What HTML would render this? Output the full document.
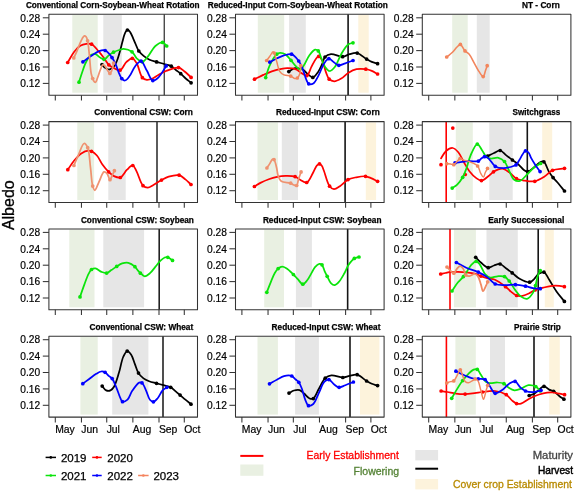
<!DOCTYPE html><html><head><meta charset="utf-8"><style>html,body{margin:0;padding:0;background:#fff;width:575px;height:493px;overflow:hidden}svg{display:block;will-change:transform;filter:blur(0.35px)}text{font-family:"Liberation Sans",sans-serif}</style></head><body>
<svg width="575" height="493" viewBox="0 0 575 493">
<rect width="575" height="493" fill="#fff"/>
<rect x="72.30" y="15.00" width="25.40" height="77.70" fill="#e9f0e2"/>
<rect x="103.30" y="15.00" width="18.50" height="77.70" fill="#e6e6e6"/>
<line x1="164.25" y1="14.30" x2="164.25" y2="95.20" stroke="#333" stroke-width="1.25"/>
<path d="M102.00,64.60 C102.90,65.60 103.59,66.80 104.70,67.60 C105.89,68.46 107.69,69.48 109.00,69.50 C110.09,69.52 111.10,68.89 112.00,68.30 C112.94,67.68 113.75,66.84 114.50,65.80 C115.43,64.52 116.12,62.92 116.90,61.00 C117.98,58.34 119.06,54.47 120.00,51.20 C120.93,47.97 121.72,44.41 122.50,41.50 C123.14,39.11 123.63,36.86 124.30,35.00 C124.82,33.54 125.35,32.07 126.00,31.20 C126.43,30.62 126.88,30.08 127.40,30.00 C127.94,29.92 128.65,30.32 129.20,30.80 C129.96,31.46 130.47,32.63 131.20,34.00 C132.38,36.23 133.89,40.18 135.20,43.10 C136.42,45.83 137.25,48.77 138.80,51.00 C140.21,53.03 142.07,54.63 143.90,56.10 C145.67,57.52 147.54,58.74 149.60,59.70 C151.75,60.70 154.22,61.19 156.60,61.90 C159.05,62.63 161.63,63.28 164.10,64.00 C166.53,64.71 169.30,65.11 171.30,66.20 C173.03,67.14 174.09,68.59 175.60,69.80 C177.21,71.09 179.05,72.28 180.70,73.70 C182.42,75.17 183.96,76.98 185.70,78.50 C187.43,80.01 189.30,81.37 191.10,82.80" transform="translate(0.00,0.00)" fill="none" stroke="#000" stroke-width="1.75" stroke-linejoin="round" stroke-linecap="round"/>
<circle cx="102.00" cy="64.60" r="1.85" fill="#000"/>
<circle cx="127.40" cy="30.00" r="1.85" fill="#000"/>
<circle cx="138.80" cy="51.00" r="1.85" fill="#000"/>
<circle cx="156.60" cy="61.90" r="1.85" fill="#000"/>
<circle cx="171.30" cy="66.20" r="1.85" fill="#000"/>
<circle cx="180.70" cy="73.70" r="1.85" fill="#000"/>
<circle cx="191.10" cy="82.80" r="1.85" fill="#000"/>
<path d="M67.70,62.50 C69.87,58.93 71.88,54.76 74.20,51.80 C76.13,49.35 78.10,47.02 80.30,45.70 C82.18,44.58 84.34,44.13 86.30,43.90 C88.10,43.69 89.87,43.42 91.60,44.20 C93.96,45.27 96.45,48.90 98.50,51.20 C100.33,53.26 101.76,55.14 103.40,57.30 C105.19,59.65 106.93,63.01 108.80,64.80 C110.19,66.13 111.45,66.76 113.10,67.60 C115.08,68.60 117.92,70.78 120.00,70.20 C122.48,69.50 124.20,63.96 126.50,61.90 C128.35,60.24 130.59,58.05 132.30,58.30 C133.99,58.55 135.32,61.05 136.70,63.30 C138.80,66.74 140.05,75.14 142.40,77.70 C143.72,79.14 145.20,79.72 146.80,79.90 C148.54,80.10 150.65,79.28 152.50,78.50 C154.49,77.66 156.24,76.07 158.30,74.90 C160.55,73.63 162.68,72.30 165.50,71.20 C169.14,69.78 175.11,67.11 178.50,67.60 C180.91,67.95 182.36,69.73 184.30,71.20 C186.55,72.90 188.83,75.33 191.10,77.40" transform="translate(0.00,0.00)" fill="none" stroke="#f00" stroke-width="1.75" stroke-linejoin="round" stroke-linecap="round"/>
<circle cx="67.70" cy="62.50" r="1.85" fill="#f00"/>
<circle cx="91.60" cy="44.20" r="1.85" fill="#f00"/>
<circle cx="108.80" cy="64.80" r="1.85" fill="#f00"/>
<circle cx="120.00" cy="70.20" r="1.85" fill="#f00"/>
<circle cx="132.30" cy="58.30" r="1.85" fill="#f00"/>
<circle cx="142.40" cy="77.70" r="1.85" fill="#f00"/>
<circle cx="178.50" cy="67.60" r="1.85" fill="#f00"/>
<circle cx="191.10" cy="77.40" r="1.85" fill="#f00"/>
<path d="M79.00,82.20 C80.03,78.97 80.94,75.82 82.10,72.50 C83.35,68.93 84.60,64.62 86.30,61.50 C87.72,58.88 89.36,55.90 91.20,54.80 C92.53,54.01 94.14,53.86 95.50,54.20 C96.99,54.58 98.46,56.48 99.70,57.30 C100.62,57.92 101.41,58.46 102.20,58.80 C102.83,59.07 103.40,59.37 104.00,59.30 C104.66,59.22 105.36,58.70 106.00,58.20 C106.77,57.60 107.25,56.62 108.20,55.80 C109.54,54.65 111.64,53.17 113.50,52.20 C115.31,51.25 117.39,50.57 119.20,50.00 C120.77,49.51 121.99,48.82 123.70,48.90 C126.06,49.01 129.81,50.17 132.00,51.80 C134.09,53.36 134.87,56.58 136.70,58.30 C138.38,59.88 140.57,62.10 142.40,61.90 C144.42,61.67 146.26,58.39 148.20,56.10 C150.59,53.28 152.68,48.33 155.40,46.00 C157.59,44.13 160.61,42.14 162.60,42.40 C164.24,42.61 165.33,44.80 166.70,46.00" transform="translate(0.00,0.00)" fill="none" stroke="#0be40b" stroke-width="1.75" stroke-linejoin="round" stroke-linecap="round"/>
<circle cx="79.00" cy="82.20" r="1.85" fill="#0be40b"/>
<circle cx="104.00" cy="59.30" r="1.85" fill="#0be40b"/>
<circle cx="113.50" cy="52.20" r="1.85" fill="#0be40b"/>
<circle cx="132.00" cy="51.80" r="1.85" fill="#0be40b"/>
<circle cx="142.40" cy="61.90" r="1.85" fill="#0be40b"/>
<circle cx="162.60" cy="42.40" r="1.85" fill="#0be40b"/>
<circle cx="166.70" cy="46.00" r="1.85" fill="#0be40b"/>
<path d="M82.90,61.80 C84.10,60.93 85.31,60.06 86.50,59.20 C87.67,58.36 88.79,57.54 90.00,56.70 C91.28,55.81 92.66,54.86 94.00,54.00 C95.32,53.16 96.68,52.21 98.00,51.60 C99.18,51.05 100.30,50.58 101.50,50.40 C102.70,50.22 104.08,50.11 105.20,50.50 C106.35,50.90 107.29,51.81 108.30,52.80 C109.57,54.04 110.84,55.84 112.00,57.60 C113.26,59.51 114.40,61.52 115.50,63.90 C116.83,66.76 117.99,71.02 119.20,73.70 C120.08,75.65 120.69,77.44 121.80,78.60 C122.71,79.55 123.90,80.63 125.00,80.50 C126.41,80.34 127.96,78.13 129.40,76.30 C131.39,73.76 133.02,68.86 135.20,66.20 C136.97,64.03 139.21,60.83 141.00,61.10 C143.14,61.42 144.86,67.30 146.80,70.50 C148.80,73.80 150.50,79.95 152.80,80.60 C154.47,81.07 156.50,79.32 158.30,77.70 C161.02,75.25 163.57,69.83 166.20,65.90" transform="translate(0.00,0.00)" fill="none" stroke="#00f" stroke-width="1.75" stroke-linejoin="round" stroke-linecap="round"/>
<circle cx="82.90" cy="61.80" r="1.85" fill="#00f"/>
<circle cx="105.20" cy="50.50" r="1.85" fill="#00f"/>
<circle cx="112.00" cy="57.60" r="1.85" fill="#00f"/>
<circle cx="121.80" cy="78.60" r="1.85" fill="#00f"/>
<circle cx="141.00" cy="61.10" r="1.85" fill="#00f"/>
<circle cx="152.80" cy="80.60" r="1.85" fill="#00f"/>
<circle cx="166.20" cy="65.90" r="1.85" fill="#00f"/>
<path d="M73.80,57.90 C74.73,55.87 75.69,53.94 76.60,51.80 C77.59,49.49 78.52,46.79 79.50,44.50 C80.39,42.42 81.25,40.16 82.20,38.60 C82.90,37.44 83.65,35.94 84.40,35.80 C84.96,35.69 85.63,36.23 86.10,36.80 C86.80,37.63 87.16,39.02 87.60,40.80 C88.41,44.11 88.83,50.26 89.40,55.40 C90.04,61.15 90.37,69.60 91.20,73.70 C91.64,75.85 92.14,77.09 92.70,78.50 C93.16,79.66 93.59,80.98 94.20,81.60 C94.61,82.02 95.18,82.45 95.60,82.30 C96.29,82.05 96.69,80.03 97.30,78.50 C98.20,76.24 99.27,72.49 100.30,70.00 C101.14,67.97 101.88,64.85 102.90,64.60 C103.62,64.42 104.57,65.58 105.30,66.40 C106.24,67.46 106.96,69.46 107.80,70.70 C108.50,71.73 109.24,73.42 109.90,73.40 C110.54,73.38 111.21,71.75 111.70,70.70 C112.28,69.47 112.67,67.75 113.00,66.40 C113.28,65.24 113.40,64.20 113.60,63.10" transform="translate(0.00,0.00)" fill="none" stroke="#ef9270" stroke-width="1.75" stroke-linejoin="round" stroke-linecap="round"/>
<circle cx="73.80" cy="57.90" r="1.85" fill="#ef9270"/>
<circle cx="87.60" cy="40.80" r="1.85" fill="#ef9270"/>
<circle cx="92.70" cy="78.50" r="1.85" fill="#ef9270"/>
<circle cx="109.90" cy="73.40" r="1.85" fill="#ef9270"/>
<circle cx="113.60" cy="63.10" r="1.85" fill="#ef9270"/>
<rect x="48.90" y="14.30" width="148.60" height="80.90" fill="none" stroke="#333" stroke-width="1.05" stroke-linejoin="round"/>
<line x1="42.80" y1="17.80" x2="48.90" y2="17.80" stroke="#333" stroke-width="1.05"/>
<text x="40.20" y="21.50" font-size="10.2" text-anchor="end" fill="#000" stroke="#000" stroke-width="0.2">0.28</text>
<line x1="42.80" y1="34.20" x2="48.90" y2="34.20" stroke="#333" stroke-width="1.05"/>
<text x="40.20" y="37.90" font-size="10.2" text-anchor="end" fill="#000" stroke="#000" stroke-width="0.2">0.24</text>
<line x1="42.80" y1="50.60" x2="48.90" y2="50.60" stroke="#333" stroke-width="1.05"/>
<text x="40.20" y="54.30" font-size="10.2" text-anchor="end" fill="#000" stroke="#000" stroke-width="0.2">0.20</text>
<line x1="42.80" y1="67.00" x2="48.90" y2="67.00" stroke="#333" stroke-width="1.05"/>
<text x="40.20" y="70.70" font-size="10.2" text-anchor="end" fill="#000" stroke="#000" stroke-width="0.2">0.16</text>
<line x1="42.80" y1="83.40" x2="48.90" y2="83.40" stroke="#333" stroke-width="1.05"/>
<text x="40.20" y="87.10" font-size="10.2" text-anchor="end" fill="#000" stroke="#000" stroke-width="0.2">0.12</text>
<line x1="55.30" y1="95.20" x2="55.30" y2="100.50" stroke="#333" stroke-width="1.05"/>
<line x1="81.44" y1="95.20" x2="81.44" y2="100.50" stroke="#333" stroke-width="1.05"/>
<line x1="106.73" y1="95.20" x2="106.73" y2="100.50" stroke="#333" stroke-width="1.05"/>
<line x1="132.87" y1="95.20" x2="132.87" y2="100.50" stroke="#333" stroke-width="1.05"/>
<line x1="159.00" y1="95.20" x2="159.00" y2="100.50" stroke="#333" stroke-width="1.05"/>
<line x1="184.29" y1="95.20" x2="184.29" y2="100.50" stroke="#333" stroke-width="1.05"/>
<text x="25.90" y="8.25" font-size="8.6" font-weight="bold" textLength="173.70" lengthAdjust="spacingAndGlyphs" fill="#000" stroke="#000" stroke-width="0.25">Conventional Corn-Soybean-Wheat Rotation</text>
<rect x="257.80" y="15.00" width="26.40" height="77.70" fill="#e9f0e2"/>
<rect x="289.10" y="15.00" width="16.70" height="77.70" fill="#e6e6e6"/>
<rect x="358.30" y="15.00" width="10.40" height="77.70" fill="#fdf3dc"/>
<line x1="348.10" y1="14.30" x2="348.10" y2="95.20" stroke="#151515" stroke-width="1.6"/>
<path d="M288.80,71.60 C290.83,70.47 293.01,68.62 294.90,68.20 C296.35,67.88 297.64,68.26 299.00,68.50 C300.40,68.75 301.86,68.92 303.20,69.70 C304.82,70.64 306.16,72.90 307.80,74.20 C309.37,75.45 311.20,77.57 312.80,77.40 C314.55,77.21 316.31,74.46 317.80,72.40 C319.59,69.93 321.13,66.08 322.40,63.30 C323.44,61.03 323.55,58.54 325.00,57.00 C326.43,55.48 328.62,54.37 331.00,54.10 C334.18,53.73 339.26,56.91 342.60,56.70 C345.22,56.53 347.10,54.80 349.50,54.20 C351.97,53.58 354.61,52.54 357.20,53.10 C360.30,53.77 363.90,57.52 366.60,59.10 C368.56,60.25 369.98,61.14 371.80,61.90 C373.64,62.67 375.67,63.10 377.60,63.70" transform="translate(0.00,0.00)" fill="none" stroke="#000" stroke-width="1.75" stroke-linejoin="round" stroke-linecap="round"/>
<circle cx="288.80" cy="71.60" r="1.85" fill="#000"/>
<circle cx="312.80" cy="77.40" r="1.85" fill="#000"/>
<circle cx="325.00" cy="57.00" r="1.85" fill="#000"/>
<circle cx="342.60" cy="56.70" r="1.85" fill="#000"/>
<circle cx="357.20" cy="53.10" r="1.85" fill="#000"/>
<circle cx="366.60" cy="59.10" r="1.85" fill="#000"/>
<circle cx="377.60" cy="63.70" r="1.85" fill="#000"/>
<path d="M254.50,79.20 C257.43,77.77 260.37,76.23 263.30,74.90 C266.14,73.61 268.83,72.30 271.80,71.30 C274.89,70.25 278.62,69.31 281.50,68.80 C283.75,68.40 285.40,68.15 287.60,68.20 C290.20,68.25 293.81,68.51 296.10,69.40 C297.90,70.10 298.86,71.44 300.50,72.40 C302.40,73.52 305.16,76.17 306.90,75.60 C308.94,74.94 309.87,69.74 311.40,66.90 C312.90,64.11 314.51,60.51 316.00,58.70 C316.92,57.59 317.78,56.31 318.70,56.40 C319.89,56.51 321.33,59.00 322.40,61.00 C323.93,63.85 324.72,69.12 326.00,72.40 C327.02,75.00 327.65,77.71 329.20,79.20 C330.52,80.46 332.39,81.27 334.20,81.30 C336.33,81.33 338.97,79.89 341.20,78.60 C343.62,77.20 345.58,74.56 348.10,73.00 C350.67,71.41 353.56,69.83 356.50,69.20 C359.46,68.56 363.06,68.82 365.80,69.20 C368.04,69.51 369.86,70.12 371.80,70.90 C373.79,71.70 375.67,72.97 377.60,74.00" transform="translate(0.00,0.00)" fill="none" stroke="#f00" stroke-width="1.75" stroke-linejoin="round" stroke-linecap="round"/>
<circle cx="254.50" cy="79.20" r="1.85" fill="#f00"/>
<circle cx="306.90" cy="75.60" r="1.85" fill="#f00"/>
<circle cx="318.70" cy="56.40" r="1.85" fill="#f00"/>
<circle cx="329.20" cy="79.20" r="1.85" fill="#f00"/>
<circle cx="365.80" cy="69.20" r="1.85" fill="#f00"/>
<circle cx="377.60" cy="74.00" r="1.85" fill="#f00"/>
<path d="M265.70,77.60 C266.90,73.87 267.61,70.11 269.30,66.40 C271.17,62.31 274.34,56.18 276.70,54.20 C277.93,53.17 279.00,52.86 280.30,52.80 C281.80,52.73 283.62,53.25 285.20,54.20 C287.23,55.43 289.16,58.24 291.00,60.30 C292.79,62.31 294.37,64.75 296.10,66.40 C297.54,67.77 299.18,69.87 300.50,69.70 C301.86,69.52 302.86,66.99 304.10,65.10 C305.85,62.44 307.54,57.72 309.60,55.00 C311.28,52.77 313.41,49.93 315.10,49.60 C316.23,49.38 317.38,49.99 318.30,50.90 C319.73,52.33 320.39,56.07 321.50,58.70 C322.65,61.41 323.55,64.76 325.10,66.90 C326.39,68.68 328.10,70.96 329.70,71.00 C331.39,71.04 333.37,68.74 335.00,66.70 C337.34,63.78 338.91,58.02 341.20,54.20 C343.31,50.67 345.69,46.30 348.10,44.50 C349.69,43.31 351.37,43.37 353.00,42.80" transform="translate(0.00,0.00)" fill="none" stroke="#0be40b" stroke-width="1.75" stroke-linejoin="round" stroke-linecap="round"/>
<circle cx="265.70" cy="77.60" r="1.85" fill="#0be40b"/>
<circle cx="276.70" cy="54.20" r="1.85" fill="#0be40b"/>
<circle cx="291.00" cy="60.30" r="1.85" fill="#0be40b"/>
<circle cx="318.30" cy="50.90" r="1.85" fill="#0be40b"/>
<circle cx="353.00" cy="42.80" r="1.85" fill="#0be40b"/>
<path d="M269.70,62.10 C272.03,60.90 274.32,59.61 276.70,58.50 C279.09,57.38 281.50,56.12 284.00,55.40 C286.47,54.69 289.27,53.47 291.60,54.20 C294.23,55.02 296.87,58.58 298.70,61.00 C300.32,63.14 301.19,65.21 302.30,67.80 C303.67,70.98 304.74,75.89 306.00,78.80 C306.88,80.84 307.38,83.09 308.70,83.80 C309.89,84.44 311.89,84.25 313.30,83.40 C315.36,82.16 316.99,78.18 318.70,75.10 C320.66,71.57 322.17,66.20 324.20,63.30 C325.64,61.25 327.14,58.83 328.80,58.70 C330.48,58.57 332.45,61.46 334.20,62.60 C335.77,63.62 337.09,65.10 338.80,65.30 C340.74,65.53 343.05,64.05 345.30,63.30 C347.77,62.47 350.43,61.43 353.00,60.50" transform="translate(0.00,0.00)" fill="none" stroke="#00f" stroke-width="1.75" stroke-linejoin="round" stroke-linecap="round"/>
<circle cx="269.70" cy="62.10" r="1.85" fill="#00f"/>
<circle cx="291.60" cy="54.20" r="1.85" fill="#00f"/>
<circle cx="298.70" cy="61.00" r="1.85" fill="#00f"/>
<circle cx="308.70" cy="83.80" r="1.85" fill="#00f"/>
<circle cx="328.80" cy="58.70" r="1.85" fill="#00f"/>
<circle cx="338.80" cy="65.30" r="1.85" fill="#00f"/>
<circle cx="353.00" cy="60.50" r="1.85" fill="#00f"/>
<path d="M266.70,60.50 C267.80,59.00 268.93,57.48 270.00,56.00 C271.03,54.58 272.19,51.87 273.00,51.80 C273.46,51.76 273.81,52.34 274.20,53.00 C275.09,54.50 275.82,58.57 276.70,61.50 C277.65,64.65 278.16,68.98 279.70,71.30 C280.84,73.02 282.28,74.10 284.00,74.90 C285.89,75.78 288.78,75.38 290.70,76.10 C292.33,76.71 293.66,78.42 294.90,78.60 C295.78,78.73 296.59,78.54 297.30,78.00 C298.31,77.24 299.22,75.43 299.80,73.70 C300.55,71.47 300.47,68.23 300.80,65.50" transform="translate(0.00,0.00)" fill="none" stroke="#f2855c" stroke-width="1.45" stroke-linejoin="round" stroke-linecap="round"/>
<circle cx="266.70" cy="60.50" r="1.85" fill="#f2855c"/>
<circle cx="274.20" cy="53.00" r="1.85" fill="#f2855c"/>
<circle cx="290.70" cy="76.10" r="1.85" fill="#f2855c"/>
<circle cx="297.30" cy="78.00" r="1.85" fill="#f2855c"/>
<circle cx="300.80" cy="65.50" r="1.85" fill="#f2855c"/>
<rect x="235.50" y="14.30" width="148.60" height="80.90" fill="none" stroke="#333" stroke-width="1.05" stroke-linejoin="round"/>
<line x1="229.40" y1="17.80" x2="235.50" y2="17.80" stroke="#333" stroke-width="1.05"/>
<text x="226.80" y="21.50" font-size="10.2" text-anchor="end" fill="#000" stroke="#000" stroke-width="0.2">0.28</text>
<line x1="229.40" y1="34.20" x2="235.50" y2="34.20" stroke="#333" stroke-width="1.05"/>
<text x="226.80" y="37.90" font-size="10.2" text-anchor="end" fill="#000" stroke="#000" stroke-width="0.2">0.24</text>
<line x1="229.40" y1="50.60" x2="235.50" y2="50.60" stroke="#333" stroke-width="1.05"/>
<text x="226.80" y="54.30" font-size="10.2" text-anchor="end" fill="#000" stroke="#000" stroke-width="0.2">0.20</text>
<line x1="229.40" y1="67.00" x2="235.50" y2="67.00" stroke="#333" stroke-width="1.05"/>
<text x="226.80" y="70.70" font-size="10.2" text-anchor="end" fill="#000" stroke="#000" stroke-width="0.2">0.16</text>
<line x1="229.40" y1="83.40" x2="235.50" y2="83.40" stroke="#333" stroke-width="1.05"/>
<text x="226.80" y="87.10" font-size="10.2" text-anchor="end" fill="#000" stroke="#000" stroke-width="0.2">0.12</text>
<line x1="241.90" y1="95.20" x2="241.90" y2="100.50" stroke="#333" stroke-width="1.05"/>
<line x1="268.04" y1="95.20" x2="268.04" y2="100.50" stroke="#333" stroke-width="1.05"/>
<line x1="293.33" y1="95.20" x2="293.33" y2="100.50" stroke="#333" stroke-width="1.05"/>
<line x1="319.47" y1="95.20" x2="319.47" y2="100.50" stroke="#333" stroke-width="1.05"/>
<line x1="345.60" y1="95.20" x2="345.60" y2="100.50" stroke="#333" stroke-width="1.05"/>
<line x1="370.89" y1="95.20" x2="370.89" y2="100.50" stroke="#333" stroke-width="1.05"/>
<text x="207.70" y="8.25" font-size="8.6" font-weight="bold" textLength="180.10" lengthAdjust="spacingAndGlyphs" fill="#000" stroke="#000" stroke-width="0.25">Reduced-Input Corn-Soybean-Wheat Rotation</text>
<rect x="452.20" y="15.00" width="15.50" height="77.70" fill="#e9f0e2"/>
<rect x="476.80" y="15.00" width="12.90" height="77.70" fill="#e6e6e6"/>
<path d="M446.70,57.00 C448.53,55.50 450.49,54.15 452.20,52.50 C453.93,50.82 455.47,48.44 457.00,47.00 C458.17,45.90 459.45,44.29 460.40,44.40 C461.24,44.50 461.80,46.02 462.50,47.00 C463.33,48.15 463.94,49.72 465.00,50.90 C466.14,52.17 467.88,52.75 469.20,54.30 C470.98,56.40 472.48,60.04 474.10,62.90 C475.71,65.74 477.23,68.98 478.90,71.40 C480.29,73.42 482.08,76.79 483.20,76.60 C484.32,76.41 484.89,72.15 485.60,70.20 C486.19,68.57 486.67,67.20 487.20,65.70" transform="translate(0.00,0.00)" fill="none" stroke="#f2855c" stroke-width="1.6" stroke-linejoin="round" stroke-linecap="round"/>
<circle cx="446.70" cy="57.00" r="1.85" fill="#f2855c"/>
<circle cx="460.40" cy="44.40" r="1.85" fill="#f2855c"/>
<circle cx="465.00" cy="50.90" r="1.85" fill="#f2855c"/>
<circle cx="483.20" cy="76.60" r="1.85" fill="#f2855c"/>
<circle cx="487.20" cy="65.70" r="1.85" fill="#f2855c"/>
<rect x="422.30" y="14.30" width="148.60" height="80.90" fill="none" stroke="#333" stroke-width="1.05" stroke-linejoin="round"/>
<line x1="416.20" y1="17.80" x2="422.30" y2="17.80" stroke="#333" stroke-width="1.05"/>
<text x="413.60" y="21.50" font-size="10.2" text-anchor="end" fill="#000" stroke="#000" stroke-width="0.2">0.28</text>
<line x1="416.20" y1="34.20" x2="422.30" y2="34.20" stroke="#333" stroke-width="1.05"/>
<text x="413.60" y="37.90" font-size="10.2" text-anchor="end" fill="#000" stroke="#000" stroke-width="0.2">0.24</text>
<line x1="416.20" y1="50.60" x2="422.30" y2="50.60" stroke="#333" stroke-width="1.05"/>
<text x="413.60" y="54.30" font-size="10.2" text-anchor="end" fill="#000" stroke="#000" stroke-width="0.2">0.20</text>
<line x1="416.20" y1="67.00" x2="422.30" y2="67.00" stroke="#333" stroke-width="1.05"/>
<text x="413.60" y="70.70" font-size="10.2" text-anchor="end" fill="#000" stroke="#000" stroke-width="0.2">0.16</text>
<line x1="416.20" y1="83.40" x2="422.30" y2="83.40" stroke="#333" stroke-width="1.05"/>
<text x="413.60" y="87.10" font-size="10.2" text-anchor="end" fill="#000" stroke="#000" stroke-width="0.2">0.12</text>
<line x1="428.70" y1="95.20" x2="428.70" y2="100.50" stroke="#333" stroke-width="1.05"/>
<line x1="454.84" y1="95.20" x2="454.84" y2="100.50" stroke="#333" stroke-width="1.05"/>
<line x1="480.13" y1="95.20" x2="480.13" y2="100.50" stroke="#333" stroke-width="1.05"/>
<line x1="506.27" y1="95.20" x2="506.27" y2="100.50" stroke="#333" stroke-width="1.05"/>
<line x1="532.40" y1="95.20" x2="532.40" y2="100.50" stroke="#333" stroke-width="1.05"/>
<line x1="557.69" y1="95.20" x2="557.69" y2="100.50" stroke="#333" stroke-width="1.05"/>
<text x="522.00" y="8.25" font-size="8.6" font-weight="bold" textLength="37.70" lengthAdjust="spacingAndGlyphs" fill="#000" stroke="#000" stroke-width="0.25">NT - Corn</text>
<rect x="77.30" y="122.30" width="16.80" height="77.70" fill="#e9f0e2"/>
<rect x="108.30" y="122.30" width="17.40" height="77.70" fill="#e6e6e6"/>
<line x1="157.00" y1="121.60" x2="157.00" y2="202.50" stroke="#333" stroke-width="1.6"/>
<path d="M67.80,169.70 C69.93,166.63 71.88,163.28 74.20,160.50 C76.40,157.87 78.75,155.07 81.30,153.40 C83.53,151.94 86.50,150.75 88.40,150.60 C89.63,150.51 90.39,150.77 91.50,151.30 C93.13,152.07 95.23,153.63 96.90,155.50 C99.01,157.86 100.56,161.98 102.60,164.80 C104.48,167.40 106.55,169.93 108.60,171.90 C110.36,173.59 112.02,175.17 114.00,176.10 C115.93,177.01 118.35,178.15 120.30,177.50 C122.77,176.68 124.72,171.80 127.00,169.70 C128.90,167.95 131.19,165.19 132.80,165.50 C134.43,165.82 135.34,169.16 136.70,171.70 C138.67,175.38 140.49,183.26 143.00,185.70 C144.46,187.12 146.15,187.74 147.80,187.70 C149.61,187.65 151.39,186.09 153.40,185.00 C155.88,183.66 158.85,181.54 161.50,180.10 C163.94,178.77 166.01,177.41 168.70,176.60 C171.78,175.67 176.17,174.52 179.10,175.20 C181.59,175.77 183.42,177.85 185.40,179.40 C187.38,180.95 189.13,182.80 191.00,184.50" transform="translate(0.00,0.00)" fill="none" stroke="#f00" stroke-width="1.75" stroke-linejoin="round" stroke-linecap="round"/>
<circle cx="67.80" cy="169.70" r="1.85" fill="#f00"/>
<circle cx="91.50" cy="151.30" r="1.85" fill="#f00"/>
<circle cx="108.60" cy="171.90" r="1.85" fill="#f00"/>
<circle cx="120.30" cy="177.50" r="1.85" fill="#f00"/>
<circle cx="132.80" cy="165.50" r="1.85" fill="#f00"/>
<circle cx="143.00" cy="185.70" r="1.85" fill="#f00"/>
<circle cx="161.50" cy="180.10" r="1.85" fill="#f00"/>
<circle cx="179.10" cy="175.20" r="1.85" fill="#f00"/>
<circle cx="191.00" cy="184.50" r="1.85" fill="#f00"/>
<path d="M73.90,165.50 C75.43,161.93 76.84,158.39 78.50,154.80 C80.23,151.06 82.27,143.73 84.10,143.50 C85.31,143.35 86.74,145.58 87.70,147.70 C89.52,151.73 89.65,161.08 90.50,167.60 C91.31,173.87 91.53,182.18 92.70,186.10 C93.29,188.07 93.98,190.30 94.80,190.30 C95.96,190.30 97.53,184.74 99.00,181.80 C100.59,178.62 102.25,172.49 104.00,171.90 C104.94,171.58 106.04,172.44 106.90,173.30 C108.17,174.57 109.02,179.69 110.00,179.70 C110.87,179.71 111.73,176.28 112.50,174.70 C113.18,173.30 113.77,172.03 114.40,170.70" transform="translate(0.00,0.00)" fill="none" stroke="#ef9270" stroke-width="1.75" stroke-linejoin="round" stroke-linecap="round"/>
<circle cx="73.90" cy="165.50" r="1.85" fill="#ef9270"/>
<circle cx="87.70" cy="147.70" r="1.85" fill="#ef9270"/>
<circle cx="92.70" cy="186.10" r="1.85" fill="#ef9270"/>
<circle cx="110.00" cy="179.70" r="1.85" fill="#ef9270"/>
<circle cx="114.40" cy="170.70" r="1.85" fill="#ef9270"/>
<rect x="48.90" y="121.60" width="148.60" height="80.90" fill="none" stroke="#333" stroke-width="1.05" stroke-linejoin="round"/>
<line x1="42.80" y1="125.10" x2="48.90" y2="125.10" stroke="#333" stroke-width="1.05"/>
<text x="40.20" y="128.80" font-size="10.2" text-anchor="end" fill="#000" stroke="#000" stroke-width="0.2">0.28</text>
<line x1="42.80" y1="141.50" x2="48.90" y2="141.50" stroke="#333" stroke-width="1.05"/>
<text x="40.20" y="145.20" font-size="10.2" text-anchor="end" fill="#000" stroke="#000" stroke-width="0.2">0.24</text>
<line x1="42.80" y1="157.90" x2="48.90" y2="157.90" stroke="#333" stroke-width="1.05"/>
<text x="40.20" y="161.60" font-size="10.2" text-anchor="end" fill="#000" stroke="#000" stroke-width="0.2">0.20</text>
<line x1="42.80" y1="174.30" x2="48.90" y2="174.30" stroke="#333" stroke-width="1.05"/>
<text x="40.20" y="178.00" font-size="10.2" text-anchor="end" fill="#000" stroke="#000" stroke-width="0.2">0.16</text>
<line x1="42.80" y1="190.70" x2="48.90" y2="190.70" stroke="#333" stroke-width="1.05"/>
<text x="40.20" y="194.40" font-size="10.2" text-anchor="end" fill="#000" stroke="#000" stroke-width="0.2">0.12</text>
<line x1="55.30" y1="202.50" x2="55.30" y2="207.80" stroke="#333" stroke-width="1.05"/>
<line x1="81.44" y1="202.50" x2="81.44" y2="207.80" stroke="#333" stroke-width="1.05"/>
<line x1="106.73" y1="202.50" x2="106.73" y2="207.80" stroke="#333" stroke-width="1.05"/>
<line x1="132.87" y1="202.50" x2="132.87" y2="207.80" stroke="#333" stroke-width="1.05"/>
<line x1="159.00" y1="202.50" x2="159.00" y2="207.80" stroke="#333" stroke-width="1.05"/>
<line x1="184.29" y1="202.50" x2="184.29" y2="207.80" stroke="#333" stroke-width="1.05"/>
<text x="94.20" y="115.35" font-size="8.6" font-weight="bold" textLength="98.70" lengthAdjust="spacingAndGlyphs" fill="#000" stroke="#000" stroke-width="0.25">Conventional CSW: Corn</text>
<rect x="257.50" y="122.30" width="20.50" height="77.70" fill="#e9f0e2"/>
<rect x="281.80" y="122.30" width="16.20" height="77.70" fill="#e6e6e6"/>
<rect x="365.80" y="122.30" width="10.30" height="77.70" fill="#fdf3dc"/>
<line x1="345.10" y1="121.60" x2="345.10" y2="202.50" stroke="#151515" stroke-width="1.6"/>
<path d="M254.40,186.50 C256.40,185.30 258.19,184.04 260.40,182.90 C262.93,181.59 265.97,180.21 268.80,179.20 C271.54,178.22 274.30,177.45 277.10,176.90 C279.87,176.35 282.60,175.97 285.50,175.90 C288.59,175.83 292.50,175.76 295.10,176.60 C297.13,177.26 298.28,178.76 300.10,179.70 C302.11,180.74 304.72,183.11 306.70,182.50 C309.28,181.70 311.50,175.29 313.30,172.20 C314.71,169.79 315.51,166.99 316.80,165.60 C317.65,164.69 318.65,163.85 319.50,163.90 C320.32,163.95 321.14,164.91 321.80,165.80 C322.69,166.98 323.06,168.59 323.90,170.70 C325.37,174.41 327.26,183.21 329.60,186.20 C330.93,187.90 332.39,189.10 334.00,189.20 C335.79,189.31 337.85,187.53 339.90,186.20 C342.47,184.53 345.13,181.09 348.00,179.60 C350.59,178.25 353.36,177.85 356.20,177.30 C359.18,176.73 362.83,176.02 365.50,176.30 C367.60,176.52 369.11,177.34 371.00,178.10 C373.13,178.96 375.40,180.23 377.60,181.30" transform="translate(0.00,0.00)" fill="none" stroke="#f00" stroke-width="1.75" stroke-linejoin="round" stroke-linecap="round"/>
<circle cx="254.40" cy="186.50" r="1.85" fill="#f00"/>
<circle cx="295.10" cy="176.60" r="1.85" fill="#f00"/>
<circle cx="306.70" cy="182.50" r="1.85" fill="#f00"/>
<circle cx="319.50" cy="163.90" r="1.85" fill="#f00"/>
<circle cx="329.60" cy="186.20" r="1.85" fill="#f00"/>
<circle cx="348.00" cy="179.60" r="1.85" fill="#f00"/>
<circle cx="365.50" cy="176.30" r="1.85" fill="#f00"/>
<circle cx="377.60" cy="181.30" r="1.85" fill="#f00"/>
<path d="M266.90,168.00 C267.87,166.53 268.87,165.06 269.80,163.60 C270.70,162.19 271.49,159.83 272.40,159.40 C272.92,159.15 273.51,159.20 274.00,159.60 C275.12,160.53 275.90,164.95 276.60,167.70 C277.30,170.45 277.29,173.70 278.20,176.10 C278.97,178.12 279.62,180.11 281.30,181.30 C283.41,182.80 288.46,182.35 290.70,183.20 C292.07,183.72 292.75,184.62 293.80,185.00 C294.75,185.35 295.96,185.96 296.70,185.50 C297.80,184.81 297.81,181.37 298.50,179.20 C299.26,176.84 300.23,174.33 301.10,171.90" transform="translate(0.00,0.00)" fill="none" stroke="#ef9270" stroke-width="1.75" stroke-linejoin="round" stroke-linecap="round"/>
<circle cx="266.90" cy="168.00" r="1.85" fill="#ef9270"/>
<circle cx="274.00" cy="159.60" r="1.85" fill="#ef9270"/>
<circle cx="290.70" cy="183.20" r="1.85" fill="#ef9270"/>
<circle cx="296.70" cy="185.50" r="1.85" fill="#ef9270"/>
<circle cx="301.10" cy="171.90" r="1.85" fill="#ef9270"/>
<rect x="235.50" y="121.60" width="148.60" height="80.90" fill="none" stroke="#333" stroke-width="1.05" stroke-linejoin="round"/>
<line x1="229.40" y1="125.10" x2="235.50" y2="125.10" stroke="#333" stroke-width="1.05"/>
<text x="226.80" y="128.80" font-size="10.2" text-anchor="end" fill="#000" stroke="#000" stroke-width="0.2">0.28</text>
<line x1="229.40" y1="141.50" x2="235.50" y2="141.50" stroke="#333" stroke-width="1.05"/>
<text x="226.80" y="145.20" font-size="10.2" text-anchor="end" fill="#000" stroke="#000" stroke-width="0.2">0.24</text>
<line x1="229.40" y1="157.90" x2="235.50" y2="157.90" stroke="#333" stroke-width="1.05"/>
<text x="226.80" y="161.60" font-size="10.2" text-anchor="end" fill="#000" stroke="#000" stroke-width="0.2">0.20</text>
<line x1="229.40" y1="174.30" x2="235.50" y2="174.30" stroke="#333" stroke-width="1.05"/>
<text x="226.80" y="178.00" font-size="10.2" text-anchor="end" fill="#000" stroke="#000" stroke-width="0.2">0.16</text>
<line x1="229.40" y1="190.70" x2="235.50" y2="190.70" stroke="#333" stroke-width="1.05"/>
<text x="226.80" y="194.40" font-size="10.2" text-anchor="end" fill="#000" stroke="#000" stroke-width="0.2">0.12</text>
<line x1="241.90" y1="202.50" x2="241.90" y2="207.80" stroke="#333" stroke-width="1.05"/>
<line x1="268.04" y1="202.50" x2="268.04" y2="207.80" stroke="#333" stroke-width="1.05"/>
<line x1="293.33" y1="202.50" x2="293.33" y2="207.80" stroke="#333" stroke-width="1.05"/>
<line x1="319.47" y1="202.50" x2="319.47" y2="207.80" stroke="#333" stroke-width="1.05"/>
<line x1="345.60" y1="202.50" x2="345.60" y2="207.80" stroke="#333" stroke-width="1.05"/>
<line x1="370.89" y1="202.50" x2="370.89" y2="207.80" stroke="#333" stroke-width="1.05"/>
<text x="276.00" y="115.35" font-size="8.6" font-weight="bold" textLength="103.70" lengthAdjust="spacingAndGlyphs" fill="#000" stroke="#000" stroke-width="0.25">Reduced-Input CSW: Corn</text>
<rect x="455.80" y="122.30" width="17.00" height="77.70" fill="#e9f0e2"/>
<rect x="489.30" y="122.30" width="23.40" height="77.70" fill="#e6e6e6"/>
<rect x="542.20" y="122.30" width="10.00" height="77.70" fill="#fdf3dc"/>
<line x1="446.20" y1="121.60" x2="446.20" y2="202.50" stroke="#f00" stroke-width="1.6"/>
<line x1="527.30" y1="121.60" x2="527.30" y2="202.50" stroke="#151515" stroke-width="1.6"/>
<path d="M487.50,156.20 C489.70,155.13 491.93,153.97 494.10,153.00 C496.16,152.08 498.25,150.22 500.20,150.50 C502.33,150.81 504.25,153.81 506.30,155.40 C508.32,156.97 510.32,158.42 512.40,160.00 C514.58,161.65 517.11,163.34 519.10,165.10 C520.90,166.69 522.27,168.88 523.90,170.00 C525.18,170.88 526.37,171.84 527.80,171.70 C529.78,171.50 532.32,168.65 534.50,167.00 C536.69,165.35 539.06,162.45 540.90,161.80 C542.01,161.41 542.94,161.21 543.90,161.80 C545.76,162.94 547.28,169.07 549.00,171.90 C550.35,174.13 551.57,175.69 553.10,177.60 C554.80,179.72 556.92,181.80 558.80,184.00 C560.73,186.26 562.60,188.67 564.50,191.00" transform="translate(0.00,0.00)" fill="none" stroke="#000" stroke-width="1.75" stroke-linejoin="round" stroke-linecap="round"/>
<circle cx="487.50" cy="156.20" r="1.85" fill="#000"/>
<circle cx="500.20" cy="150.50" r="1.85" fill="#000"/>
<circle cx="512.40" cy="160.00" r="1.85" fill="#000"/>
<circle cx="527.80" cy="171.70" r="1.85" fill="#000"/>
<circle cx="543.90" cy="161.80" r="1.85" fill="#000"/>
<circle cx="553.10" cy="177.60" r="1.85" fill="#000"/>
<circle cx="564.50" cy="191.00" r="1.85" fill="#000"/>
<path d="M441.00,158.40 C442.67,155.97 443.93,152.85 446.00,151.10 C447.89,149.50 450.63,147.77 452.70,148.00 C454.72,148.23 456.61,150.35 458.30,152.30 C460.45,154.79 462.01,159.08 463.90,162.30 C465.71,165.37 467.32,168.55 469.40,171.20 C471.38,173.72 473.77,176.28 476.00,177.90 C477.78,179.20 479.52,180.69 481.40,180.60 C483.59,180.50 486.22,177.84 488.30,176.30 C490.22,174.89 491.71,172.98 493.50,171.80 C495.09,170.75 496.73,169.90 498.40,169.40 C499.97,168.93 501.56,168.46 503.20,168.80 C505.18,169.21 507.25,170.92 509.30,172.40 C511.68,174.12 513.99,177.40 516.50,178.70 C518.62,179.80 520.57,179.89 523.10,180.30 C526.43,180.84 531.20,181.96 534.80,181.30 C538.20,180.68 541.25,178.62 544.20,176.80 C547.18,174.96 549.35,171.72 552.60,170.30 C556.06,168.79 560.53,168.97 564.50,168.30" transform="translate(0.00,0.00)" fill="none" stroke="#f00" stroke-width="1.75" stroke-linejoin="round" stroke-linecap="round"/>
<circle cx="481.40" cy="180.60" r="1.85" fill="#f00"/>
<circle cx="493.50" cy="171.80" r="1.85" fill="#f00"/>
<circle cx="516.50" cy="178.70" r="1.85" fill="#f00"/>
<circle cx="534.80" cy="181.30" r="1.85" fill="#f00"/>
<circle cx="552.60" cy="170.30" r="1.85" fill="#f00"/>
<circle cx="564.50" cy="168.30" r="1.85" fill="#f00"/>
<circle cx="441.00" cy="164.70" r="1.85" fill="#f00"/>
<circle cx="452.80" cy="128.10" r="1.85" fill="#f00"/>
<circle cx="465.20" cy="174.50" r="1.85" fill="#f00"/>
<path d="M452.20,188.10 C453.87,186.93 455.61,186.14 457.20,184.60 C459.15,182.72 461.16,179.99 462.70,177.30 C464.33,174.46 465.37,171.27 466.60,167.90 C467.99,164.10 468.74,159.54 470.50,155.60 C472.29,151.60 475.13,144.23 477.30,144.10 C478.99,144.00 480.62,148.31 482.20,150.50 C483.79,152.71 485.03,156.03 486.80,157.30 C488.10,158.24 489.46,158.36 491.10,158.50 C493.20,158.69 496.15,157.29 498.40,157.80 C500.62,158.31 502.80,159.64 504.50,161.50 C506.60,163.79 507.64,168.10 509.30,171.20 C510.88,174.15 512.08,178.20 514.20,179.70 C515.84,180.87 518.05,181.35 520.00,180.80 C522.64,180.05 525.50,175.89 528.00,173.50 C530.31,171.30 532.25,168.72 534.50,167.00 C536.47,165.49 538.57,164.67 540.60,163.50" transform="translate(0.00,0.00)" fill="none" stroke="#0be40b" stroke-width="1.75" stroke-linejoin="round" stroke-linecap="round"/>
<circle cx="452.20" cy="188.10" r="1.85" fill="#0be40b"/>
<circle cx="462.70" cy="177.30" r="1.85" fill="#0be40b"/>
<circle cx="477.30" cy="144.10" r="1.85" fill="#0be40b"/>
<circle cx="504.50" cy="161.50" r="1.85" fill="#0be40b"/>
<circle cx="540.60" cy="163.50" r="1.85" fill="#0be40b"/>
<path d="M455.00,162.80 C456.83,162.57 458.45,162.33 460.50,162.10 C463.11,161.80 466.42,161.37 469.40,161.20 C472.39,161.03 476.26,161.92 478.40,161.10 C479.87,160.54 480.52,159.06 481.60,158.30 C482.55,157.63 483.52,156.83 484.50,156.70 C485.42,156.58 486.45,156.93 487.30,157.40 C488.23,157.92 488.84,158.77 489.80,159.80 C491.31,161.42 493.02,165.00 495.30,166.40 C497.51,167.76 500.61,168.12 503.20,168.20 C505.67,168.28 508.27,167.60 510.50,167.00 C512.49,166.46 514.51,166.07 516.00,164.90 C517.53,163.70 518.41,161.54 519.50,159.80 C520.58,158.07 521.43,156.07 522.50,154.50 C523.45,153.11 524.41,151.01 525.50,150.80 C526.43,150.62 527.64,151.58 528.50,152.50 C529.66,153.75 530.13,156.23 531.20,158.20 C532.42,160.45 534.00,162.95 535.50,165.20 C536.97,167.41 538.57,169.47 540.10,171.60" transform="translate(0.00,0.00)" fill="none" stroke="#00f" stroke-width="1.75" stroke-linejoin="round" stroke-linecap="round"/>
<circle cx="455.00" cy="162.80" r="1.85" fill="#00f"/>
<circle cx="478.40" cy="161.10" r="1.85" fill="#00f"/>
<circle cx="484.50" cy="156.70" r="1.85" fill="#00f"/>
<circle cx="495.30" cy="166.40" r="1.85" fill="#00f"/>
<circle cx="516.00" cy="164.90" r="1.85" fill="#00f"/>
<circle cx="525.50" cy="150.80" r="1.85" fill="#00f"/>
<circle cx="540.10" cy="171.60" r="1.85" fill="#00f"/>
<path d="M446.60,163.70 C447.90,163.80 449.26,163.82 450.50,164.00 C451.65,164.17 452.77,165.01 453.80,164.70 C455.04,164.32 456.10,162.25 457.20,161.20 C458.16,160.28 458.92,158.91 460.00,158.70 C461.14,158.48 462.48,159.64 463.90,160.10 C465.57,160.64 467.43,160.91 469.40,161.70 C471.91,162.71 475.71,163.95 477.60,166.00 C479.35,167.90 479.59,171.31 480.70,173.30 C481.55,174.83 482.64,177.19 483.40,177.10 C484.18,177.01 484.60,173.97 485.30,172.50 C485.97,171.08 486.77,169.77 487.50,168.40" transform="translate(0.00,0.00)" fill="none" stroke="#f2855c" stroke-width="1.45" stroke-linejoin="round" stroke-linecap="round"/>
<circle cx="446.60" cy="163.70" r="1.85" fill="#f2855c"/>
<circle cx="453.80" cy="164.70" r="1.85" fill="#f2855c"/>
<circle cx="460.00" cy="158.70" r="1.85" fill="#f2855c"/>
<circle cx="477.60" cy="166.00" r="1.85" fill="#f2855c"/>
<circle cx="487.50" cy="168.40" r="1.85" fill="#f2855c"/>
<rect x="422.30" y="121.60" width="148.60" height="80.90" fill="none" stroke="#333" stroke-width="1.05" stroke-linejoin="round"/>
<line x1="416.20" y1="125.10" x2="422.30" y2="125.10" stroke="#333" stroke-width="1.05"/>
<text x="413.60" y="128.80" font-size="10.2" text-anchor="end" fill="#000" stroke="#000" stroke-width="0.2">0.28</text>
<line x1="416.20" y1="141.50" x2="422.30" y2="141.50" stroke="#333" stroke-width="1.05"/>
<text x="413.60" y="145.20" font-size="10.2" text-anchor="end" fill="#000" stroke="#000" stroke-width="0.2">0.24</text>
<line x1="416.20" y1="157.90" x2="422.30" y2="157.90" stroke="#333" stroke-width="1.05"/>
<text x="413.60" y="161.60" font-size="10.2" text-anchor="end" fill="#000" stroke="#000" stroke-width="0.2">0.20</text>
<line x1="416.20" y1="174.30" x2="422.30" y2="174.30" stroke="#333" stroke-width="1.05"/>
<text x="413.60" y="178.00" font-size="10.2" text-anchor="end" fill="#000" stroke="#000" stroke-width="0.2">0.16</text>
<line x1="416.20" y1="190.70" x2="422.30" y2="190.70" stroke="#333" stroke-width="1.05"/>
<text x="413.60" y="194.40" font-size="10.2" text-anchor="end" fill="#000" stroke="#000" stroke-width="0.2">0.12</text>
<line x1="428.70" y1="202.50" x2="428.70" y2="207.80" stroke="#333" stroke-width="1.05"/>
<line x1="454.84" y1="202.50" x2="454.84" y2="207.80" stroke="#333" stroke-width="1.05"/>
<line x1="480.13" y1="202.50" x2="480.13" y2="207.80" stroke="#333" stroke-width="1.05"/>
<line x1="506.27" y1="202.50" x2="506.27" y2="207.80" stroke="#333" stroke-width="1.05"/>
<line x1="532.40" y1="202.50" x2="532.40" y2="207.80" stroke="#333" stroke-width="1.05"/>
<line x1="557.69" y1="202.50" x2="557.69" y2="207.80" stroke="#333" stroke-width="1.05"/>
<text x="512.60" y="115.35" font-size="8.6" font-weight="bold" textLength="47.80" lengthAdjust="spacingAndGlyphs" fill="#000" stroke="#000" stroke-width="0.25">Switchgrass</text>
<rect x="69.30" y="229.60" width="25.20" height="77.70" fill="#e9f0e2"/>
<rect x="103.30" y="229.60" width="40.80" height="77.70" fill="#e6e6e6"/>
<line x1="159.20" y1="228.90" x2="159.20" y2="309.80" stroke="#222" stroke-width="1.6"/>
<path d="M80.00,296.90 C81.50,292.63 82.98,288.13 84.50,284.10 C85.88,280.44 87.31,276.34 88.70,273.70 C89.64,271.93 90.30,270.40 91.50,269.50 C92.58,268.69 94.00,268.13 95.40,268.30 C97.25,268.52 99.50,271.10 101.50,271.90 C103.22,272.59 104.99,273.37 106.60,273.10 C108.26,272.82 109.69,271.17 111.30,270.10 C113.05,268.94 114.86,267.53 116.70,266.40 C118.50,265.30 120.25,264.00 122.20,263.40 C124.12,262.81 126.30,262.36 128.30,262.80 C130.54,263.30 133.29,265.29 134.90,266.70 C136.09,267.74 136.59,268.92 137.50,270.00 C138.42,271.09 139.27,272.20 140.40,273.20 C141.66,274.32 143.25,276.24 144.80,276.30 C146.44,276.36 148.37,274.59 150.00,273.20 C151.90,271.58 153.54,268.99 155.30,266.90 C157.04,264.83 158.77,262.35 160.50,260.70 C161.90,259.36 163.33,258.01 164.70,257.50 C165.75,257.11 166.90,257.07 167.80,257.30 C168.60,257.50 169.17,258.12 169.90,258.60 C170.73,259.14 171.63,259.80 172.50,260.40" transform="translate(0.00,0.00)" fill="none" stroke="#0be40b" stroke-width="1.75" stroke-linejoin="round" stroke-linecap="round"/>
<circle cx="80.00" cy="296.90" r="1.85" fill="#0be40b"/>
<circle cx="91.50" cy="269.50" r="1.85" fill="#0be40b"/>
<circle cx="106.60" cy="273.10" r="1.85" fill="#0be40b"/>
<circle cx="116.70" cy="266.40" r="1.85" fill="#0be40b"/>
<circle cx="134.90" cy="266.70" r="1.85" fill="#0be40b"/>
<circle cx="140.40" cy="273.20" r="1.85" fill="#0be40b"/>
<circle cx="167.80" cy="257.30" r="1.85" fill="#0be40b"/>
<circle cx="172.50" cy="260.40" r="1.85" fill="#0be40b"/>
<rect x="48.90" y="228.90" width="148.60" height="80.90" fill="none" stroke="#333" stroke-width="1.05" stroke-linejoin="round"/>
<line x1="42.80" y1="232.40" x2="48.90" y2="232.40" stroke="#333" stroke-width="1.05"/>
<text x="40.20" y="236.10" font-size="10.2" text-anchor="end" fill="#000" stroke="#000" stroke-width="0.2">0.28</text>
<line x1="42.80" y1="248.80" x2="48.90" y2="248.80" stroke="#333" stroke-width="1.05"/>
<text x="40.20" y="252.50" font-size="10.2" text-anchor="end" fill="#000" stroke="#000" stroke-width="0.2">0.24</text>
<line x1="42.80" y1="265.20" x2="48.90" y2="265.20" stroke="#333" stroke-width="1.05"/>
<text x="40.20" y="268.90" font-size="10.2" text-anchor="end" fill="#000" stroke="#000" stroke-width="0.2">0.20</text>
<line x1="42.80" y1="281.60" x2="48.90" y2="281.60" stroke="#333" stroke-width="1.05"/>
<text x="40.20" y="285.30" font-size="10.2" text-anchor="end" fill="#000" stroke="#000" stroke-width="0.2">0.16</text>
<line x1="42.80" y1="298.00" x2="48.90" y2="298.00" stroke="#333" stroke-width="1.05"/>
<text x="40.20" y="301.70" font-size="10.2" text-anchor="end" fill="#000" stroke="#000" stroke-width="0.2">0.12</text>
<line x1="55.30" y1="309.80" x2="55.30" y2="315.10" stroke="#333" stroke-width="1.05"/>
<line x1="81.44" y1="309.80" x2="81.44" y2="315.10" stroke="#333" stroke-width="1.05"/>
<line x1="106.73" y1="309.80" x2="106.73" y2="315.10" stroke="#333" stroke-width="1.05"/>
<line x1="132.87" y1="309.80" x2="132.87" y2="315.10" stroke="#333" stroke-width="1.05"/>
<line x1="159.00" y1="309.80" x2="159.00" y2="315.10" stroke="#333" stroke-width="1.05"/>
<line x1="184.29" y1="309.80" x2="184.29" y2="315.10" stroke="#333" stroke-width="1.05"/>
<text x="80.90" y="223.20" font-size="8.6" font-weight="bold" textLength="113.00" lengthAdjust="spacingAndGlyphs" fill="#000" stroke="#000" stroke-width="0.25">Conventional CSW: Soybean</text>
<rect x="264.20" y="229.60" width="19.80" height="77.70" fill="#e9f0e2"/>
<rect x="295.90" y="229.60" width="16.00" height="77.70" fill="#e6e6e6"/>
<line x1="347.65" y1="228.90" x2="347.65" y2="309.80" stroke="#151515" stroke-width="1.6"/>
<path d="M266.80,292.30 C268.10,288.97 269.35,285.56 270.70,282.30 C272.02,279.13 273.34,275.46 274.80,273.00 C275.88,271.18 276.89,269.67 278.20,268.60 C279.36,267.66 280.76,266.76 282.10,266.70 C283.46,266.64 284.80,267.40 286.30,268.30 C288.47,269.60 291.36,272.53 293.40,274.50 C295.09,276.13 296.27,277.62 297.80,279.20 C299.40,280.85 301.16,284.15 302.80,284.20 C304.29,284.24 305.83,281.96 307.20,280.30 C308.92,278.23 310.50,274.76 311.90,272.40 C313.04,270.49 313.71,268.65 315.00,267.20 C316.23,265.81 318.08,263.99 319.40,263.80 C320.34,263.66 321.26,264.07 322.00,264.80 C323.16,265.94 323.70,269.12 324.60,271.10 C325.43,272.93 326.24,274.46 327.20,276.30 C328.31,278.42 329.43,281.59 330.90,283.10 C331.98,284.21 333.25,285.29 334.50,285.20 C336.00,285.10 337.73,283.14 339.20,281.50 C341.09,279.40 342.82,276.01 344.40,273.20 C345.95,270.44 346.90,267.31 348.60,264.80 C350.23,262.40 352.30,259.67 354.30,258.40 C355.81,257.44 357.43,257.47 359.00,257.00" transform="translate(0.00,0.00)" fill="none" stroke="#0be40b" stroke-width="1.75" stroke-linejoin="round" stroke-linecap="round"/>
<circle cx="266.80" cy="292.30" r="1.85" fill="#0be40b"/>
<circle cx="278.20" cy="268.60" r="1.85" fill="#0be40b"/>
<circle cx="293.40" cy="274.50" r="1.85" fill="#0be40b"/>
<circle cx="302.80" cy="284.20" r="1.85" fill="#0be40b"/>
<circle cx="322.00" cy="264.80" r="1.85" fill="#0be40b"/>
<circle cx="327.20" cy="276.30" r="1.85" fill="#0be40b"/>
<circle cx="354.30" cy="258.40" r="1.85" fill="#0be40b"/>
<circle cx="359.00" cy="257.00" r="1.85" fill="#0be40b"/>
<rect x="235.50" y="228.90" width="148.60" height="80.90" fill="none" stroke="#333" stroke-width="1.05" stroke-linejoin="round"/>
<line x1="229.40" y1="232.40" x2="235.50" y2="232.40" stroke="#333" stroke-width="1.05"/>
<text x="226.80" y="236.10" font-size="10.2" text-anchor="end" fill="#000" stroke="#000" stroke-width="0.2">0.28</text>
<line x1="229.40" y1="248.80" x2="235.50" y2="248.80" stroke="#333" stroke-width="1.05"/>
<text x="226.80" y="252.50" font-size="10.2" text-anchor="end" fill="#000" stroke="#000" stroke-width="0.2">0.24</text>
<line x1="229.40" y1="265.20" x2="235.50" y2="265.20" stroke="#333" stroke-width="1.05"/>
<text x="226.80" y="268.90" font-size="10.2" text-anchor="end" fill="#000" stroke="#000" stroke-width="0.2">0.20</text>
<line x1="229.40" y1="281.60" x2="235.50" y2="281.60" stroke="#333" stroke-width="1.05"/>
<text x="226.80" y="285.30" font-size="10.2" text-anchor="end" fill="#000" stroke="#000" stroke-width="0.2">0.16</text>
<line x1="229.40" y1="298.00" x2="235.50" y2="298.00" stroke="#333" stroke-width="1.05"/>
<text x="226.80" y="301.70" font-size="10.2" text-anchor="end" fill="#000" stroke="#000" stroke-width="0.2">0.12</text>
<line x1="241.90" y1="309.80" x2="241.90" y2="315.10" stroke="#333" stroke-width="1.05"/>
<line x1="268.04" y1="309.80" x2="268.04" y2="315.10" stroke="#333" stroke-width="1.05"/>
<line x1="293.33" y1="309.80" x2="293.33" y2="315.10" stroke="#333" stroke-width="1.05"/>
<line x1="319.47" y1="309.80" x2="319.47" y2="315.10" stroke="#333" stroke-width="1.05"/>
<line x1="345.60" y1="309.80" x2="345.60" y2="315.10" stroke="#333" stroke-width="1.05"/>
<line x1="370.89" y1="309.80" x2="370.89" y2="315.10" stroke="#333" stroke-width="1.05"/>
<text x="262.90" y="223.20" font-size="8.6" font-weight="bold" textLength="118.60" lengthAdjust="spacingAndGlyphs" fill="#000" stroke="#000" stroke-width="0.25">Reduced-Input CSW: Soybean</text>
<rect x="454.00" y="229.60" width="21.90" height="77.70" fill="#e9f0e2"/>
<rect x="486.50" y="229.60" width="31.30" height="77.70" fill="#e6e6e6"/>
<rect x="544.80" y="229.60" width="9.00" height="77.70" fill="#fdf3dc"/>
<line x1="450.00" y1="228.90" x2="450.00" y2="309.80" stroke="#f00" stroke-width="1.6"/>
<line x1="538.20" y1="228.90" x2="538.20" y2="309.80" stroke="#151515" stroke-width="1.6"/>
<path d="M475.70,257.30 C477.43,259.03 478.94,260.84 480.90,262.50 C483.06,264.33 485.83,267.39 488.20,267.70 C490.17,267.95 492.02,266.12 494.00,265.50 C495.99,264.88 498.14,263.62 500.10,264.00 C502.26,264.42 504.26,267.00 506.30,268.50 C508.30,269.97 510.14,271.31 512.20,272.90 C514.54,274.71 516.80,277.27 519.60,278.80 C522.56,280.42 526.97,282.60 529.60,282.20 C531.55,281.91 532.82,280.14 534.30,278.80 C535.90,277.35 537.07,274.80 538.80,273.70 C540.35,272.72 542.45,271.65 544.00,272.20 C546.00,272.91 547.27,276.82 549.10,279.60 C551.37,283.06 553.89,287.70 556.50,291.40 C559.00,294.94 561.77,298.07 564.40,301.40" transform="translate(0.00,0.00)" fill="none" stroke="#000" stroke-width="1.75" stroke-linejoin="round" stroke-linecap="round"/>
<circle cx="475.70" cy="257.30" r="1.85" fill="#000"/>
<circle cx="488.20" cy="267.70" r="1.85" fill="#000"/>
<circle cx="500.10" cy="264.00" r="1.85" fill="#000"/>
<circle cx="512.20" cy="272.90" r="1.85" fill="#000"/>
<circle cx="529.60" cy="282.20" r="1.85" fill="#000"/>
<circle cx="544.00" cy="272.20" r="1.85" fill="#000"/>
<circle cx="564.40" cy="301.40" r="1.85" fill="#000"/>
<path d="M440.70,274.00 C442.27,273.67 443.79,273.34 445.40,273.00 C447.11,272.64 448.78,272.10 450.70,271.90 C452.93,271.67 455.49,271.82 458.00,271.90 C460.68,271.98 463.53,272.14 466.30,272.40 C469.10,272.67 472.15,272.81 474.70,273.50 C476.97,274.11 478.81,275.31 480.90,276.10 C482.98,276.88 484.97,277.62 487.20,278.20 C489.64,278.84 492.32,278.60 495.00,279.70 C498.38,281.08 502.67,284.50 505.50,286.70 C507.61,288.34 508.86,289.94 510.70,291.40 C512.56,292.88 514.53,294.79 516.60,295.50 C518.48,296.14 520.46,296.13 522.50,295.80 C524.87,295.41 527.69,293.97 529.90,292.90 C531.82,291.97 533.11,290.73 535.10,289.90 C537.45,288.92 540.43,288.37 543.20,287.70 C546.09,287.00 549.25,286.10 552.10,285.80 C554.67,285.53 557.29,285.60 559.50,285.80 C561.31,285.96 562.77,286.40 564.40,286.70" transform="translate(0.00,0.00)" fill="none" stroke="#f00" stroke-width="1.75" stroke-linejoin="round" stroke-linecap="round"/>
<circle cx="440.70" cy="274.00" r="1.85" fill="#f00"/>
<circle cx="480.90" cy="276.10" r="1.85" fill="#f00"/>
<circle cx="505.50" cy="286.70" r="1.85" fill="#f00"/>
<circle cx="516.60" cy="295.50" r="1.85" fill="#f00"/>
<circle cx="535.10" cy="289.90" r="1.85" fill="#f00"/>
<circle cx="564.40" cy="286.70" r="1.85" fill="#f00"/>
<path d="M452.00,291.00 C454.00,288.10 455.95,284.83 458.00,282.30 C459.76,280.12 461.81,278.56 463.40,276.60 C464.89,274.76 465.98,272.85 467.30,270.90 C468.68,268.86 469.89,266.25 471.50,264.60 C472.90,263.16 474.76,261.22 476.20,261.30 C477.54,261.38 478.69,263.08 479.90,264.60 C481.68,266.83 483.06,271.78 485.10,274.00 C486.66,275.70 488.34,277.08 490.30,277.50 C492.40,277.95 495.03,276.45 497.40,276.30 C499.76,276.15 502.50,275.76 504.50,276.60 C506.40,277.40 507.65,279.17 509.20,281.00 C511.20,283.36 513.04,287.21 515.10,289.90 C516.99,292.36 518.82,295.11 521.00,296.60 C522.85,297.86 525.13,299.21 527.00,298.80 C529.14,298.33 531.48,295.16 532.90,292.90 C534.28,290.71 534.70,288.20 535.50,285.50 C536.43,282.35 536.99,277.79 538.00,275.10 C538.69,273.27 539.53,272.17 540.30,270.70" transform="translate(0.00,0.00)" fill="none" stroke="#0be40b" stroke-width="1.75" stroke-linejoin="round" stroke-linecap="round"/>
<circle cx="452.00" cy="291.00" r="1.85" fill="#0be40b"/>
<circle cx="463.40" cy="276.60" r="1.85" fill="#0be40b"/>
<circle cx="476.20" cy="261.30" r="1.85" fill="#0be40b"/>
<circle cx="504.50" cy="276.60" r="1.85" fill="#0be40b"/>
<circle cx="509.20" cy="281.00" r="1.85" fill="#0be40b"/>
<circle cx="535.50" cy="285.50" r="1.85" fill="#0be40b"/>
<circle cx="540.30" cy="270.70" r="1.85" fill="#0be40b"/>
<path d="M456.40,262.50 C459.70,264.23 462.79,266.14 466.30,267.70 C470.06,269.37 474.66,270.42 478.30,272.10 C481.55,273.60 484.40,275.14 487.20,277.10 C490.04,279.10 492.19,282.66 495.20,284.00 C498.08,285.28 501.52,285.07 504.80,285.20 C508.24,285.33 511.92,284.53 515.40,284.70 C518.82,284.87 522.41,285.58 525.50,286.20 C528.17,286.74 530.42,287.68 532.90,288.10 C535.35,288.51 537.83,288.50 540.30,288.70" transform="translate(0.00,0.00)" fill="none" stroke="#00f" stroke-width="1.75" stroke-linejoin="round" stroke-linecap="round"/>
<circle cx="456.40" cy="262.50" r="1.85" fill="#00f"/>
<circle cx="478.30" cy="272.10" r="1.85" fill="#00f"/>
<circle cx="495.20" cy="284.00" r="1.85" fill="#00f"/>
<circle cx="515.40" cy="284.70" r="1.85" fill="#00f"/>
<circle cx="525.50" cy="286.20" r="1.85" fill="#00f"/>
<circle cx="540.30" cy="288.70" r="1.85" fill="#00f"/>
<path d="M447.00,267.00 C447.87,267.93 448.59,268.86 449.60,269.80 C450.80,270.92 452.58,273.37 453.80,273.20 C455.02,273.03 455.78,270.02 456.90,268.80 C457.87,267.75 458.96,266.21 460.00,266.20 C461.05,266.19 462.30,267.60 463.20,268.80 C464.34,270.33 464.51,273.84 465.80,275.00 C466.76,275.87 468.09,276.15 469.40,276.10 C471.01,276.04 473.20,273.84 474.70,274.00 C475.91,274.13 476.91,274.97 477.80,276.10 C479.17,277.84 480.00,281.76 480.90,284.40 C481.71,286.77 482.10,291.11 483.00,291.20 C483.86,291.29 485.27,287.21 486.10,285.50 C486.76,284.15 487.17,283.03 487.70,281.80" transform="translate(0.00,0.00)" fill="none" stroke="#f08a64" stroke-width="1.75" stroke-linejoin="round" stroke-linecap="round"/>
<circle cx="447.00" cy="267.00" r="1.85" fill="#f08a64"/>
<circle cx="453.80" cy="273.20" r="1.85" fill="#f08a64"/>
<circle cx="465.80" cy="275.00" r="1.85" fill="#f08a64"/>
<circle cx="487.70" cy="281.80" r="1.85" fill="#f08a64"/>
<rect x="422.30" y="228.90" width="148.60" height="80.90" fill="none" stroke="#333" stroke-width="1.05" stroke-linejoin="round"/>
<line x1="416.20" y1="232.40" x2="422.30" y2="232.40" stroke="#333" stroke-width="1.05"/>
<text x="413.60" y="236.10" font-size="10.2" text-anchor="end" fill="#000" stroke="#000" stroke-width="0.2">0.28</text>
<line x1="416.20" y1="248.80" x2="422.30" y2="248.80" stroke="#333" stroke-width="1.05"/>
<text x="413.60" y="252.50" font-size="10.2" text-anchor="end" fill="#000" stroke="#000" stroke-width="0.2">0.24</text>
<line x1="416.20" y1="265.20" x2="422.30" y2="265.20" stroke="#333" stroke-width="1.05"/>
<text x="413.60" y="268.90" font-size="10.2" text-anchor="end" fill="#000" stroke="#000" stroke-width="0.2">0.20</text>
<line x1="416.20" y1="281.60" x2="422.30" y2="281.60" stroke="#333" stroke-width="1.05"/>
<text x="413.60" y="285.30" font-size="10.2" text-anchor="end" fill="#000" stroke="#000" stroke-width="0.2">0.16</text>
<line x1="416.20" y1="298.00" x2="422.30" y2="298.00" stroke="#333" stroke-width="1.05"/>
<text x="413.60" y="301.70" font-size="10.2" text-anchor="end" fill="#000" stroke="#000" stroke-width="0.2">0.12</text>
<line x1="428.70" y1="309.80" x2="428.70" y2="315.10" stroke="#333" stroke-width="1.05"/>
<line x1="454.84" y1="309.80" x2="454.84" y2="315.10" stroke="#333" stroke-width="1.05"/>
<line x1="480.13" y1="309.80" x2="480.13" y2="315.10" stroke="#333" stroke-width="1.05"/>
<line x1="506.27" y1="309.80" x2="506.27" y2="315.10" stroke="#333" stroke-width="1.05"/>
<line x1="532.40" y1="309.80" x2="532.40" y2="315.10" stroke="#333" stroke-width="1.05"/>
<line x1="557.69" y1="309.80" x2="557.69" y2="315.10" stroke="#333" stroke-width="1.05"/>
<text x="488.30" y="223.20" font-size="8.6" font-weight="bold" textLength="76.00" lengthAdjust="spacingAndGlyphs" fill="#000" stroke="#000" stroke-width="0.25">Early Successional</text>
<rect x="80.40" y="336.90" width="17.30" height="77.70" fill="#e9f0e2"/>
<rect x="112.20" y="336.90" width="36.20" height="77.70" fill="#e6e6e6"/>
<line x1="163.00" y1="336.20" x2="163.00" y2="417.10" stroke="#222" stroke-width="1.6"/>
<path d="M102.20,386.10 C103.53,387.53 104.68,389.74 106.20,390.40 C107.50,390.97 109.24,390.93 110.50,390.40 C111.87,389.82 112.91,388.56 114.00,386.80 C115.89,383.75 117.49,377.47 119.00,372.60 C120.57,367.55 121.44,360.85 123.20,357.00 C124.37,354.44 125.76,351.26 127.20,351.10 C128.46,350.96 130.05,353.12 131.20,354.80 C132.76,357.08 133.67,361.03 134.90,364.10 C136.11,367.13 136.91,370.62 138.50,373.10 C139.88,375.25 141.65,377.03 143.50,378.40 C145.21,379.67 147.06,380.41 149.10,381.20 C151.36,382.08 154.08,382.62 156.50,383.30 C158.84,383.95 161.07,384.54 163.40,385.20 C165.80,385.88 168.62,386.22 170.70,387.30 C172.55,388.26 173.84,389.81 175.40,391.10 C176.97,392.41 178.49,393.72 180.10,395.10 C181.82,396.58 183.59,398.19 185.40,399.70 C187.23,401.23 189.13,402.70 191.00,404.20" transform="translate(0.00,0.00)" fill="none" stroke="#000" stroke-width="1.75" stroke-linejoin="round" stroke-linecap="round"/>
<circle cx="102.20" cy="386.10" r="1.85" fill="#000"/>
<circle cx="127.20" cy="351.10" r="1.85" fill="#000"/>
<circle cx="138.50" cy="373.10" r="1.85" fill="#000"/>
<circle cx="156.50" cy="383.30" r="1.85" fill="#000"/>
<circle cx="170.70" cy="387.30" r="1.85" fill="#000"/>
<circle cx="180.10" cy="395.10" r="1.85" fill="#000"/>
<circle cx="191.00" cy="404.20" r="1.85" fill="#000"/>
<path d="M82.80,383.70 C84.93,382.13 87.01,380.61 89.20,379.00 C91.50,377.31 94.09,375.11 96.30,373.80 C98.03,372.77 99.63,371.69 101.20,371.50 C102.55,371.34 103.89,371.65 105.10,372.30 C106.52,373.07 107.73,375.09 109.00,376.20 C110.09,377.14 111.21,377.40 112.20,378.60 C113.68,380.41 114.83,383.81 116.10,386.80 C117.57,390.26 119.11,395.53 120.40,398.20 C121.15,399.75 121.45,401.36 122.50,401.70 C123.71,402.09 126.06,400.91 127.50,399.60 C129.43,397.85 130.24,393.84 132.10,391.10 C134.09,388.16 137.18,383.42 139.20,382.60 C140.22,382.19 141.12,382.30 142.00,382.90 C143.60,383.99 144.99,388.31 146.30,391.10 C147.62,393.90 148.36,397.92 149.90,399.70 C150.92,400.88 152.21,401.89 153.40,401.80 C154.80,401.69 156.34,399.76 157.70,398.20 C159.45,396.20 160.82,392.30 162.60,390.40 C163.95,388.96 165.47,388.33 166.90,387.30" transform="translate(0.00,0.00)" fill="none" stroke="#00f" stroke-width="1.75" stroke-linejoin="round" stroke-linecap="round"/>
<circle cx="82.80" cy="383.70" r="1.85" fill="#00f"/>
<circle cx="105.10" cy="372.30" r="1.85" fill="#00f"/>
<circle cx="112.20" cy="378.60" r="1.85" fill="#00f"/>
<circle cx="122.50" cy="401.70" r="1.85" fill="#00f"/>
<circle cx="142.00" cy="382.90" r="1.85" fill="#00f"/>
<circle cx="153.40" cy="401.80" r="1.85" fill="#00f"/>
<circle cx="166.90" cy="387.30" r="1.85" fill="#00f"/>
<rect x="48.90" y="336.20" width="148.60" height="80.90" fill="none" stroke="#333" stroke-width="1.05" stroke-linejoin="round"/>
<line x1="42.80" y1="339.70" x2="48.90" y2="339.70" stroke="#333" stroke-width="1.05"/>
<text x="40.20" y="343.40" font-size="10.2" text-anchor="end" fill="#000" stroke="#000" stroke-width="0.2">0.28</text>
<line x1="42.80" y1="356.10" x2="48.90" y2="356.10" stroke="#333" stroke-width="1.05"/>
<text x="40.20" y="359.80" font-size="10.2" text-anchor="end" fill="#000" stroke="#000" stroke-width="0.2">0.24</text>
<line x1="42.80" y1="372.50" x2="48.90" y2="372.50" stroke="#333" stroke-width="1.05"/>
<text x="40.20" y="376.20" font-size="10.2" text-anchor="end" fill="#000" stroke="#000" stroke-width="0.2">0.20</text>
<line x1="42.80" y1="388.90" x2="48.90" y2="388.90" stroke="#333" stroke-width="1.05"/>
<text x="40.20" y="392.60" font-size="10.2" text-anchor="end" fill="#000" stroke="#000" stroke-width="0.2">0.16</text>
<line x1="42.80" y1="405.30" x2="48.90" y2="405.30" stroke="#333" stroke-width="1.05"/>
<text x="40.20" y="409.00" font-size="10.2" text-anchor="end" fill="#000" stroke="#000" stroke-width="0.2">0.12</text>
<line x1="55.30" y1="417.10" x2="55.30" y2="422.40" stroke="#333" stroke-width="1.05"/>
<line x1="81.44" y1="417.10" x2="81.44" y2="422.40" stroke="#333" stroke-width="1.05"/>
<line x1="106.73" y1="417.10" x2="106.73" y2="422.40" stroke="#333" stroke-width="1.05"/>
<line x1="132.87" y1="417.10" x2="132.87" y2="422.40" stroke="#333" stroke-width="1.05"/>
<line x1="159.00" y1="417.10" x2="159.00" y2="422.40" stroke="#333" stroke-width="1.05"/>
<line x1="184.29" y1="417.10" x2="184.29" y2="422.40" stroke="#333" stroke-width="1.05"/>
<text x="55.20" y="432.8" font-size="10.4" fill="#000" stroke="#000" stroke-width="0.2">May</text>
<text x="81.34" y="432.8" font-size="10.4" fill="#000" stroke="#000" stroke-width="0.2">Jun</text>
<text x="106.63" y="432.8" font-size="10.4" fill="#000" stroke="#000" stroke-width="0.2">Jul</text>
<text x="132.77" y="432.8" font-size="10.4" fill="#000" stroke="#000" stroke-width="0.2">Aug</text>
<text x="158.90" y="432.8" font-size="10.4" fill="#000" stroke="#000" stroke-width="0.2">Sep</text>
<text x="184.19" y="432.8" font-size="10.4" fill="#000" stroke="#000" stroke-width="0.2">Oct</text>
<text x="89.60" y="329.60" font-size="8.6" font-weight="bold" textLength="103.60" lengthAdjust="spacingAndGlyphs" fill="#000" stroke="#000" stroke-width="0.25">Conventional CSW: Wheat</text>
<rect x="257.50" y="336.90" width="20.40" height="77.70" fill="#e9f0e2"/>
<rect x="295.10" y="336.90" width="23.80" height="77.70" fill="#e6e6e6"/>
<rect x="360.00" y="336.90" width="19.40" height="77.70" fill="#fdf3dc"/>
<line x1="350.00" y1="336.20" x2="350.00" y2="417.10" stroke="#151515" stroke-width="1.6"/>
<path d="M289.00,393.10 C290.67,392.23 292.23,391.00 294.00,390.50 C295.77,390.00 297.92,389.60 299.60,390.10 C301.29,390.60 302.55,392.22 304.10,393.50 C305.87,394.97 307.82,397.78 309.60,398.50 C310.86,399.01 312.13,399.26 313.30,398.60 C315.35,397.44 316.96,392.04 318.90,388.70 C320.92,385.24 322.71,380.41 325.20,378.20 C327.05,376.55 328.97,375.70 331.40,375.40 C334.58,375.01 339.51,377.59 342.80,377.50 C345.34,377.43 347.18,376.36 349.50,375.90 C351.97,375.41 354.62,374.13 357.20,374.70 C360.31,375.39 363.89,379.37 366.60,381.00 C368.56,382.18 369.98,383.04 371.80,383.80 C373.64,384.57 375.67,385.00 377.60,385.60" transform="translate(0.00,0.00)" fill="none" stroke="#000" stroke-width="1.75" stroke-linejoin="round" stroke-linecap="round"/>
<circle cx="289.00" cy="393.10" r="1.85" fill="#000"/>
<circle cx="313.30" cy="398.60" r="1.85" fill="#000"/>
<circle cx="325.20" cy="378.20" r="1.85" fill="#000"/>
<circle cx="342.80" cy="377.50" r="1.85" fill="#000"/>
<circle cx="357.20" cy="374.70" r="1.85" fill="#000"/>
<circle cx="366.60" cy="381.00" r="1.85" fill="#000"/>
<circle cx="377.60" cy="385.60" r="1.85" fill="#000"/>
<path d="M269.50,383.80 C272.10,382.37 274.78,380.81 277.30,379.50 C279.60,378.30 281.94,376.87 284.00,376.20 C285.61,375.67 287.12,375.40 288.50,375.40 C289.69,375.40 290.73,375.47 291.80,376.00 C293.14,376.66 294.48,378.40 295.70,379.50 C296.79,380.48 297.88,381.07 298.80,382.30 C299.98,383.88 300.86,386.09 301.80,388.50 C303.03,391.63 303.90,396.50 305.20,399.60 C306.20,401.99 306.99,405.12 308.50,405.70 C309.80,406.20 311.86,405.27 313.30,404.00 C315.56,402.00 317.03,396.52 318.90,392.80 C320.76,389.09 322.34,383.81 324.50,381.70 C325.85,380.38 327.44,379.38 328.90,379.60 C330.68,379.87 332.39,383.17 334.20,384.50 C335.80,385.67 337.33,387.13 339.10,387.30 C341.01,387.48 343.11,386.00 345.30,385.20 C347.83,384.27 350.70,383.07 353.40,382.00" transform="translate(0.00,0.00)" fill="none" stroke="#00f" stroke-width="1.75" stroke-linejoin="round" stroke-linecap="round"/>
<circle cx="269.50" cy="383.80" r="1.85" fill="#00f"/>
<circle cx="291.80" cy="376.00" r="1.85" fill="#00f"/>
<circle cx="298.80" cy="382.30" r="1.85" fill="#00f"/>
<circle cx="308.50" cy="405.70" r="1.85" fill="#00f"/>
<circle cx="328.90" cy="379.60" r="1.85" fill="#00f"/>
<circle cx="339.10" cy="387.30" r="1.85" fill="#00f"/>
<circle cx="353.40" cy="382.00" r="1.85" fill="#00f"/>
<rect x="235.50" y="336.20" width="148.60" height="80.90" fill="none" stroke="#333" stroke-width="1.05" stroke-linejoin="round"/>
<line x1="229.40" y1="339.70" x2="235.50" y2="339.70" stroke="#333" stroke-width="1.05"/>
<text x="226.80" y="343.40" font-size="10.2" text-anchor="end" fill="#000" stroke="#000" stroke-width="0.2">0.28</text>
<line x1="229.40" y1="356.10" x2="235.50" y2="356.10" stroke="#333" stroke-width="1.05"/>
<text x="226.80" y="359.80" font-size="10.2" text-anchor="end" fill="#000" stroke="#000" stroke-width="0.2">0.24</text>
<line x1="229.40" y1="372.50" x2="235.50" y2="372.50" stroke="#333" stroke-width="1.05"/>
<text x="226.80" y="376.20" font-size="10.2" text-anchor="end" fill="#000" stroke="#000" stroke-width="0.2">0.20</text>
<line x1="229.40" y1="388.90" x2="235.50" y2="388.90" stroke="#333" stroke-width="1.05"/>
<text x="226.80" y="392.60" font-size="10.2" text-anchor="end" fill="#000" stroke="#000" stroke-width="0.2">0.16</text>
<line x1="229.40" y1="405.30" x2="235.50" y2="405.30" stroke="#333" stroke-width="1.05"/>
<text x="226.80" y="409.00" font-size="10.2" text-anchor="end" fill="#000" stroke="#000" stroke-width="0.2">0.12</text>
<line x1="241.90" y1="417.10" x2="241.90" y2="422.40" stroke="#333" stroke-width="1.05"/>
<line x1="268.04" y1="417.10" x2="268.04" y2="422.40" stroke="#333" stroke-width="1.05"/>
<line x1="293.33" y1="417.10" x2="293.33" y2="422.40" stroke="#333" stroke-width="1.05"/>
<line x1="319.47" y1="417.10" x2="319.47" y2="422.40" stroke="#333" stroke-width="1.05"/>
<line x1="345.60" y1="417.10" x2="345.60" y2="422.40" stroke="#333" stroke-width="1.05"/>
<line x1="370.89" y1="417.10" x2="370.89" y2="422.40" stroke="#333" stroke-width="1.05"/>
<text x="241.80" y="432.8" font-size="10.4" fill="#000" stroke="#000" stroke-width="0.2">May</text>
<text x="267.94" y="432.8" font-size="10.4" fill="#000" stroke="#000" stroke-width="0.2">Jun</text>
<text x="293.23" y="432.8" font-size="10.4" fill="#000" stroke="#000" stroke-width="0.2">Jul</text>
<text x="319.37" y="432.8" font-size="10.4" fill="#000" stroke="#000" stroke-width="0.2">Aug</text>
<text x="345.50" y="432.8" font-size="10.4" fill="#000" stroke="#000" stroke-width="0.2">Sep</text>
<text x="370.79" y="432.8" font-size="10.4" fill="#000" stroke="#000" stroke-width="0.2">Oct</text>
<text x="271.60" y="329.60" font-size="8.6" font-weight="bold" textLength="108.80" lengthAdjust="spacingAndGlyphs" fill="#000" stroke="#000" stroke-width="0.25">Reduced-Input CSW: Wheat</text>
<rect x="455.40" y="336.90" width="20.40" height="77.70" fill="#e9f0e2"/>
<rect x="490.00" y="336.90" width="15.00" height="77.70" fill="#e6e6e6"/>
<rect x="549.20" y="336.90" width="10.60" height="77.70" fill="#fdf3dc"/>
<line x1="446.40" y1="336.20" x2="446.40" y2="417.10" stroke="#f00" stroke-width="1.6"/>
<line x1="534.00" y1="336.20" x2="534.00" y2="417.10" stroke="#151515" stroke-width="1.6"/>
<path d="M529.20,395.50 C530.90,394.90 532.42,394.72 534.30,393.70 C537.13,392.17 541.25,386.41 544.00,386.30 C545.94,386.22 547.41,388.75 549.10,389.60 C550.61,390.36 552.07,390.41 553.60,391.30 C555.53,392.42 557.65,394.80 559.50,396.20 C561.04,397.36 562.43,398.20 563.90,399.20" transform="translate(0.00,0.00)" fill="none" stroke="#000" stroke-width="1.75" stroke-linejoin="round" stroke-linecap="round"/>
<circle cx="529.20" cy="395.50" r="1.85" fill="#000"/>
<circle cx="544.00" cy="386.30" r="1.85" fill="#000"/>
<circle cx="553.60" cy="391.30" r="1.85" fill="#000"/>
<circle cx="563.90" cy="399.20" r="1.85" fill="#000"/>
<path d="M441.10,391.00 C443.23,391.33 445.23,391.61 447.50,392.00 C450.11,392.45 453.02,393.25 455.90,393.60 C458.89,393.96 462.00,394.18 465.10,394.10 C468.27,394.02 471.67,393.47 474.70,393.10 C477.44,392.76 479.59,392.32 482.50,392.00 C486.17,391.59 490.98,390.52 495.00,391.00 C498.91,391.46 503.31,392.85 506.30,394.70 C508.82,396.26 510.30,399.13 512.20,400.70 C513.71,401.94 515.06,403.14 516.60,403.60 C518.01,404.02 519.41,404.04 521.00,403.60 C523.22,402.99 526.05,400.49 528.40,399.20 C530.46,398.07 532.09,397.11 534.30,396.20 C536.93,395.11 540.20,393.92 543.20,393.30 C546.13,392.70 549.28,392.40 552.10,392.50 C554.69,392.59 557.27,393.30 559.50,393.70 C561.36,394.03 562.90,394.37 564.60,394.70" transform="translate(0.00,0.00)" fill="none" stroke="#f00" stroke-width="1.75" stroke-linejoin="round" stroke-linecap="round"/>
<circle cx="441.10" cy="391.00" r="1.85" fill="#f00"/>
<circle cx="465.10" cy="394.10" r="1.85" fill="#f00"/>
<circle cx="482.50" cy="392.00" r="1.85" fill="#f00"/>
<circle cx="506.30" cy="394.70" r="1.85" fill="#f00"/>
<circle cx="516.60" cy="403.60" r="1.85" fill="#f00"/>
<circle cx="564.60" cy="394.70" r="1.85" fill="#f00"/>
<path d="M451.70,398.30 C453.43,395.33 455.08,392.33 456.90,389.40 C458.74,386.43 460.70,383.29 462.70,380.60 C464.54,378.13 466.45,375.72 468.40,373.80 C470.09,372.14 471.91,370.25 473.60,369.60 C474.86,369.12 476.21,368.85 477.30,369.40 C478.75,370.12 479.57,372.88 480.90,374.80 C482.46,377.06 484.20,380.79 486.10,382.10 C487.42,383.01 488.70,383.07 490.30,383.20 C492.35,383.36 495.08,382.41 497.40,382.50 C499.65,382.59 502.04,382.77 504.00,383.70 C505.98,384.63 507.38,386.98 509.20,388.10 C510.86,389.12 512.53,390.13 514.40,390.30 C516.44,390.48 518.79,389.59 521.00,388.80 C523.45,387.92 525.87,385.43 528.40,385.10 C530.81,384.78 533.76,385.52 535.80,386.60 C537.66,387.58 538.80,389.53 540.30,391.00" transform="translate(0.00,0.00)" fill="none" stroke="#0be40b" stroke-width="1.75" stroke-linejoin="round" stroke-linecap="round"/>
<circle cx="451.70" cy="398.30" r="1.85" fill="#0be40b"/>
<circle cx="462.70" cy="380.60" r="1.85" fill="#0be40b"/>
<circle cx="477.30" cy="369.40" r="1.85" fill="#0be40b"/>
<circle cx="504.00" cy="383.70" r="1.85" fill="#0be40b"/>
<circle cx="535.80" cy="386.60" r="1.85" fill="#0be40b"/>
<circle cx="540.30" cy="391.00" r="1.85" fill="#0be40b"/>
<path d="M455.90,371.20 C457.97,372.23 460.01,373.35 462.10,374.30 C464.17,375.25 466.38,376.18 468.40,376.90 C470.20,377.55 471.89,378.19 473.60,378.50 C475.19,378.79 476.59,378.66 478.30,378.80 C480.36,378.97 483.28,378.45 485.10,379.50 C486.97,380.58 487.78,383.22 489.30,385.30 C491.10,387.76 492.90,392.70 495.20,393.30 C497.16,393.81 499.64,391.71 501.80,390.30 C504.32,388.66 506.74,385.21 509.20,383.70 C511.17,382.49 513.33,380.97 515.10,381.40 C517.07,381.88 518.47,385.65 520.30,387.30 C521.95,388.79 523.51,390.18 525.50,391.00 C527.66,391.89 530.39,392.29 532.90,392.20 C535.55,392.11 538.30,390.93 541.00,390.30" transform="translate(0.00,0.00)" fill="none" stroke="#00f" stroke-width="1.75" stroke-linejoin="round" stroke-linecap="round"/>
<circle cx="455.90" cy="371.20" r="1.85" fill="#00f"/>
<circle cx="478.30" cy="378.80" r="1.85" fill="#00f"/>
<circle cx="485.10" cy="379.50" r="1.85" fill="#00f"/>
<circle cx="495.20" cy="393.30" r="1.85" fill="#00f"/>
<circle cx="515.10" cy="381.40" r="1.85" fill="#00f"/>
<circle cx="525.50" cy="391.00" r="1.85" fill="#00f"/>
<circle cx="541.00" cy="390.30" r="1.85" fill="#00f"/>
<path d="M446.70,383.00 C448.03,382.53 449.44,381.96 450.70,381.60 C451.79,381.29 452.88,381.55 453.80,380.90 C455.05,380.01 455.86,377.66 456.90,375.90 C458.03,373.98 459.32,369.73 460.30,369.80 C461.25,369.86 461.86,373.91 462.70,375.90 C463.52,377.84 464.11,380.51 465.30,381.60 C466.16,382.39 467.30,382.77 468.40,382.70 C469.71,382.62 471.38,381.28 472.60,380.60 C473.58,380.05 474.33,379.00 475.20,379.00 C476.07,379.00 477.04,379.62 477.80,380.60 C479.20,382.40 479.92,387.29 480.90,390.50 C481.82,393.52 482.63,399.30 483.50,399.30 C484.37,399.30 485.33,393.05 486.10,390.50 C486.69,388.54 487.17,387.03 487.70,385.30" transform="translate(0.00,0.00)" fill="none" stroke="#f2855c" stroke-width="1.45" stroke-linejoin="round" stroke-linecap="round"/>
<circle cx="446.70" cy="383.00" r="1.85" fill="#f2855c"/>
<circle cx="453.80" cy="380.90" r="1.85" fill="#f2855c"/>
<circle cx="460.30" cy="369.80" r="1.85" fill="#f2855c"/>
<circle cx="475.20" cy="379.00" r="1.85" fill="#f2855c"/>
<circle cx="487.70" cy="385.30" r="1.85" fill="#f2855c"/>
<rect x="422.30" y="336.20" width="148.60" height="80.90" fill="none" stroke="#333" stroke-width="1.05" stroke-linejoin="round"/>
<line x1="416.20" y1="339.70" x2="422.30" y2="339.70" stroke="#333" stroke-width="1.05"/>
<text x="413.60" y="343.40" font-size="10.2" text-anchor="end" fill="#000" stroke="#000" stroke-width="0.2">0.28</text>
<line x1="416.20" y1="356.10" x2="422.30" y2="356.10" stroke="#333" stroke-width="1.05"/>
<text x="413.60" y="359.80" font-size="10.2" text-anchor="end" fill="#000" stroke="#000" stroke-width="0.2">0.24</text>
<line x1="416.20" y1="372.50" x2="422.30" y2="372.50" stroke="#333" stroke-width="1.05"/>
<text x="413.60" y="376.20" font-size="10.2" text-anchor="end" fill="#000" stroke="#000" stroke-width="0.2">0.20</text>
<line x1="416.20" y1="388.90" x2="422.30" y2="388.90" stroke="#333" stroke-width="1.05"/>
<text x="413.60" y="392.60" font-size="10.2" text-anchor="end" fill="#000" stroke="#000" stroke-width="0.2">0.16</text>
<line x1="416.20" y1="405.30" x2="422.30" y2="405.30" stroke="#333" stroke-width="1.05"/>
<text x="413.60" y="409.00" font-size="10.2" text-anchor="end" fill="#000" stroke="#000" stroke-width="0.2">0.12</text>
<line x1="428.70" y1="417.10" x2="428.70" y2="422.40" stroke="#333" stroke-width="1.05"/>
<line x1="454.84" y1="417.10" x2="454.84" y2="422.40" stroke="#333" stroke-width="1.05"/>
<line x1="480.13" y1="417.10" x2="480.13" y2="422.40" stroke="#333" stroke-width="1.05"/>
<line x1="506.27" y1="417.10" x2="506.27" y2="422.40" stroke="#333" stroke-width="1.05"/>
<line x1="532.40" y1="417.10" x2="532.40" y2="422.40" stroke="#333" stroke-width="1.05"/>
<line x1="557.69" y1="417.10" x2="557.69" y2="422.40" stroke="#333" stroke-width="1.05"/>
<text x="428.60" y="432.8" font-size="10.4" fill="#000" stroke="#000" stroke-width="0.2">May</text>
<text x="454.74" y="432.8" font-size="10.4" fill="#000" stroke="#000" stroke-width="0.2">Jun</text>
<text x="480.03" y="432.8" font-size="10.4" fill="#000" stroke="#000" stroke-width="0.2">Jul</text>
<text x="506.17" y="432.8" font-size="10.4" fill="#000" stroke="#000" stroke-width="0.2">Aug</text>
<text x="532.30" y="432.8" font-size="10.4" fill="#000" stroke="#000" stroke-width="0.2">Sep</text>
<text x="557.59" y="432.8" font-size="10.4" fill="#000" stroke="#000" stroke-width="0.2">Oct</text>
<text x="514.10" y="329.60" font-size="8.6" font-weight="bold" textLength="46.60" lengthAdjust="spacingAndGlyphs" fill="#000" stroke="#000" stroke-width="0.25">Prairie Strip</text>
<text transform="translate(14.2,205.2) rotate(-90)" font-size="16" text-anchor="middle" fill="#000" stroke="#000" stroke-width="0.3">Albedo</text>
<line x1="45.6" y1="457.4" x2="56" y2="457.4" stroke="#000" stroke-width="1.5"/>
<circle cx="50.8" cy="457.4" r="1.3" fill="#000"/>
<text x="60.9" y="461.70" font-size="11.55" fill="#000" stroke="#000" stroke-width="0.25" textLength="25.6" lengthAdjust="spacingAndGlyphs">2019</text>
<line x1="92.2" y1="457.4" x2="101.7" y2="457.4" stroke="#f00" stroke-width="1.5"/>
<circle cx="96.95" cy="457.4" r="1.3" fill="#f00"/>
<text x="107.3" y="461.70" font-size="11.55" fill="#000" stroke="#000" stroke-width="0.25" textLength="25.6" lengthAdjust="spacingAndGlyphs">2020</text>
<line x1="45.6" y1="475.5" x2="56" y2="475.5" stroke="#0be40b" stroke-width="1.5"/>
<circle cx="50.8" cy="475.5" r="1.3" fill="#0be40b"/>
<text x="60.9" y="479.80" font-size="11.55" fill="#000" stroke="#000" stroke-width="0.25" textLength="25.6" lengthAdjust="spacingAndGlyphs">2021</text>
<line x1="92.2" y1="475.5" x2="101.7" y2="475.5" stroke="#00f" stroke-width="1.5"/>
<circle cx="96.95" cy="475.5" r="1.3" fill="#00f"/>
<text x="107.3" y="479.80" font-size="11.55" fill="#000" stroke="#000" stroke-width="0.25" textLength="25.6" lengthAdjust="spacingAndGlyphs">2022</text>
<line x1="138.1" y1="475.5" x2="148.6" y2="475.5" stroke="#f4845f" stroke-width="1.5"/>
<circle cx="143.35" cy="475.5" r="1.3" fill="#f4845f"/>
<text x="153.4" y="479.80" font-size="11.55" fill="#000" stroke="#000" stroke-width="0.25" textLength="25.6" lengthAdjust="spacingAndGlyphs">2023</text>
<line x1="240.3" y1="455.9" x2="263.4" y2="455.9" stroke="#f00" stroke-width="2"/>
<rect x="240.3" y="464.5" width="23.1" height="11.3" fill="#e9f0e2"/>
<text x="306.6" y="458.9" font-size="10.8" fill="#f00" stroke="#f00" stroke-width="0.3" textLength="92.2" lengthAdjust="spacingAndGlyphs">Early Establishment</text>
<text x="353.6" y="474.6" font-size="10.8" fill="#548235" stroke="#548235" stroke-width="0.3" textLength="45.5" lengthAdjust="spacingAndGlyphs">Flowering</text>
<rect x="415.3" y="450" width="22.8" height="10.4" fill="#e6e6e6"/>
<line x1="415.3" y1="468.7" x2="438.1" y2="468.7" stroke="#000" stroke-width="2"/>
<rect x="415.3" y="479" width="22.8" height="10.4" fill="#fdf3dc"/>
<text x="532.7" y="458.9" font-size="10.8" fill="#444" stroke="#444" stroke-width="0.3" textLength="40.3" lengthAdjust="spacingAndGlyphs">Maturity</text>
<text x="538" y="473.6" font-size="10.8" fill="#000" stroke="#000" stroke-width="0.45" textLength="35" lengthAdjust="spacingAndGlyphs">Harvest</text>
<text x="452.9" y="487.8" font-size="10.8" fill="#b88a00" stroke="#b88a00" stroke-width="0.3" textLength="119.1" lengthAdjust="spacingAndGlyphs">Cover crop Establishment</text>
</svg></body></html>
